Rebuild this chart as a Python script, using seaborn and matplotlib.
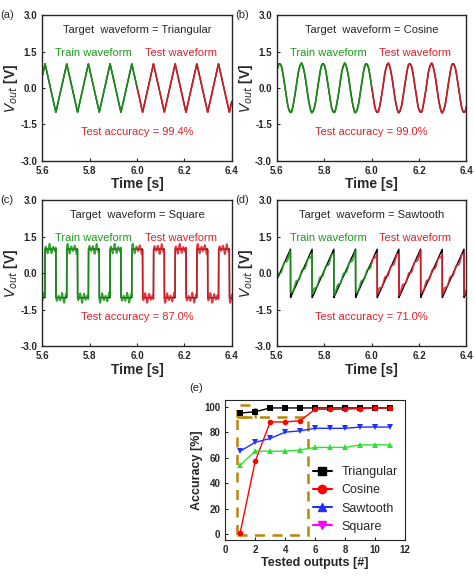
import numpy as np
import matplotlib
matplotlib.use("Agg")
import matplotlib.pyplot as plt
import seaborn as sns
from matplotlib.lines import Line2D
from matplotlib.patches import Rectangle

sns.set_style("ticks")
plt.rcParams['font.family'] = ['Liberation Sans', 'DejaVu Sans']

# panel info
panel_tags = ["(a)", "(b)", "(c)", "(d)"]
wave_names = ["Triangular", "Cosine", "Square", "Sawtooth"]
accuracies = ["99.4%", "99.0%", "87.0%", "71.0%"]
period = 0.0915
t_start = 5.612

# panel (e)
outputs = [1, 2, 3, 4, 5, 6, 7, 8, 9, 10, 11]
acc_tri = [95, 96, 99, 99, 99, 99, 99, 99, 99, 99, 99]
acc_cos = [1, 57, 88, 88, 89, 98, 98, 98, 98.5, 99, 99]
acc_saw = [65, 72, 75, 80, 81, 83, 83, 83, 84, 84, 84]
acc_sq = [54, 65, 65, 65, 66, 68, 68, 68, 70, 70, 70]

def target(name, t):
    ph = ((t - t_start) / period) % 1.0
    if name == "Triangular":
        return 1 - 4 * np.minimum(ph, 1 - ph)
    if name == "Cosine":
        return np.cos(2 * np.pi * ph)
    if name == "Square":
        return np.where(ph < 0.5, 1.0, -1.0)
    return 2 * ((ph + 0.5) % 1.0) - 1

def predicted(name, t):
    y = target(name, t)
    if name == "Square":
        ph = ((t - t_start) / period) % 1.0
        y = y * (1 + 0.15 * np.sin(2 * np.pi * 6 * ph)) + 0.07 * np.sin(2 * np.pi * 40 * t)
    elif name == "Sawtooth":
        y = 0.85 * y + 0.08 * np.sin(2 * np.pi * 40 * t)
    elif name == "Cosine":
        y = y + 0.04 * np.sin(2 * np.pi * 60 * t)
    return y

fig = plt.figure(figsize=(4.74, 5.81), dpi=100)
pos = [(0.089, 0.723), (0.584, 0.723), (0.089, 0.404), (0.584, 0.404)]
green = "#1a9a1a"
red = "#e0202a"
for i, name in enumerate(wave_names):
    ax = fig.add_axes([pos[i][0], pos[i][1], 0.40, 0.251])
    t = np.linspace(5.6, 6.4, 2000)
    ax.plot(t, target(name, t), color="black", lw=1.0)
    p = predicted(name, t)
    tr = t <= 6.0
    ax.plot(t[tr], p[tr], color=green, lw=1.2, alpha=0.9)
    ax.plot(t[~tr], p[~tr], color=red, lw=1.2, alpha=0.9)
    ax.set_xlim(5.6, 6.4)
    ax.set_ylim(-3, 3)
    ax.set_xticks([5.6, 5.8, 6.0, 6.2, 6.4])
    ax.set_yticks([-3, -1.5, 0, 1.5, 3])
    ax.set_yticklabels(["-3.0", "-1.5", "0.0", "1.5", "3.0"])
    ax.tick_params(labelsize=7, direction="in", length=2.5)
    for lab in ax.get_xticklabels() + ax.get_yticklabels():
        lab.set_fontweight("bold")
    ax.set_xlabel("Time [s]", fontsize=10, fontweight="bold", labelpad=1)
    ax.set_ylabel("$V_{out}$ [V]", fontsize=10, fontweight="bold", labelpad=0)
    ax.text(0.5, 0.88, f"Target  waveform = {name}", transform=ax.transAxes,
            ha="center", fontsize=8)
    ax.text(0.27, 0.72, "Train waveform", transform=ax.transAxes, ha="center",
            fontsize=8, color=green)
    ax.text(0.73, 0.72, "Test waveform", transform=ax.transAxes, ha="center",
            fontsize=8, color=red)
    ax.text(0.5, 0.18, f"Test accuracy = {accuracies[i]}", transform=ax.transAxes,
            ha="center", fontsize=8, color=red)
    ax.text(-0.22, 1.0, panel_tags[i], transform=ax.transAxes, fontsize=8, va="center")
    for s in ax.spines.values():
        s.set_linewidth(1.0)

ax = fig.add_axes([0.475, 0.07, 0.38, 0.241])
sns.lineplot(x=outputs, y=acc_tri, ax=ax, color="black", marker="s", markersize=4, lw=1, markeredgewidth=0)
sns.lineplot(x=outputs, y=acc_cos, ax=ax, color="red", marker="o", markersize=4, lw=1, markeredgewidth=0)
sns.lineplot(x=outputs, y=acc_saw, ax=ax, color="#2030ff", marker="v", markersize=4, lw=1, markeredgewidth=0)
sns.lineplot(x=outputs, y=acc_sq, ax=ax, color="#30e030", marker="^", markersize=4, lw=1, markeredgewidth=0)
ax.add_patch(Rectangle((0.8, -1), 4.7, 93, fill=False, ls=(0, (4, 3)), lw=1.8, ec="#b8860b"))
ax.add_patch(Rectangle((0.8, 92), 1.2, 9, fill=False, ls=(0, (4, 3)), lw=1.8, ec="#b8860b"))
ax.set_xlim(0, 12)
ax.set_ylim(-5, 105)
ax.set_xticks(range(0, 13, 2))
ax.set_yticks(range(0, 101, 20))
ax.tick_params(labelsize=7, direction="in", length=2.5)
for lab in ax.get_xticklabels() + ax.get_yticklabels():
    lab.set_fontweight("bold")
ax.set_xlabel("Tested outputs [#]", fontsize=9, fontweight="bold", labelpad=1)
ax.set_ylabel("Accuracy [%]", fontsize=9, fontweight="bold", labelpad=1)
handles = [Line2D([], [], color="black", marker="s", lw=1.5),
           Line2D([], [], color="red", marker="o", lw=1.5),
           Line2D([], [], color="#2030ff", marker="^", lw=1.5),
           Line2D([], [], color="magenta", marker="v", lw=1.5)]
ax.legend(handles, ["Triangular", "Cosine", "Sawtooth", "Square"], frameon=False,
          fontsize=9, loc="lower right", handlelength=1.5, borderaxespad=0.2)
ax.text(-0.2, 1.07, "(e)", transform=ax.transAxes, fontsize=8)

fig.savefig("out.png", dpi=100)
